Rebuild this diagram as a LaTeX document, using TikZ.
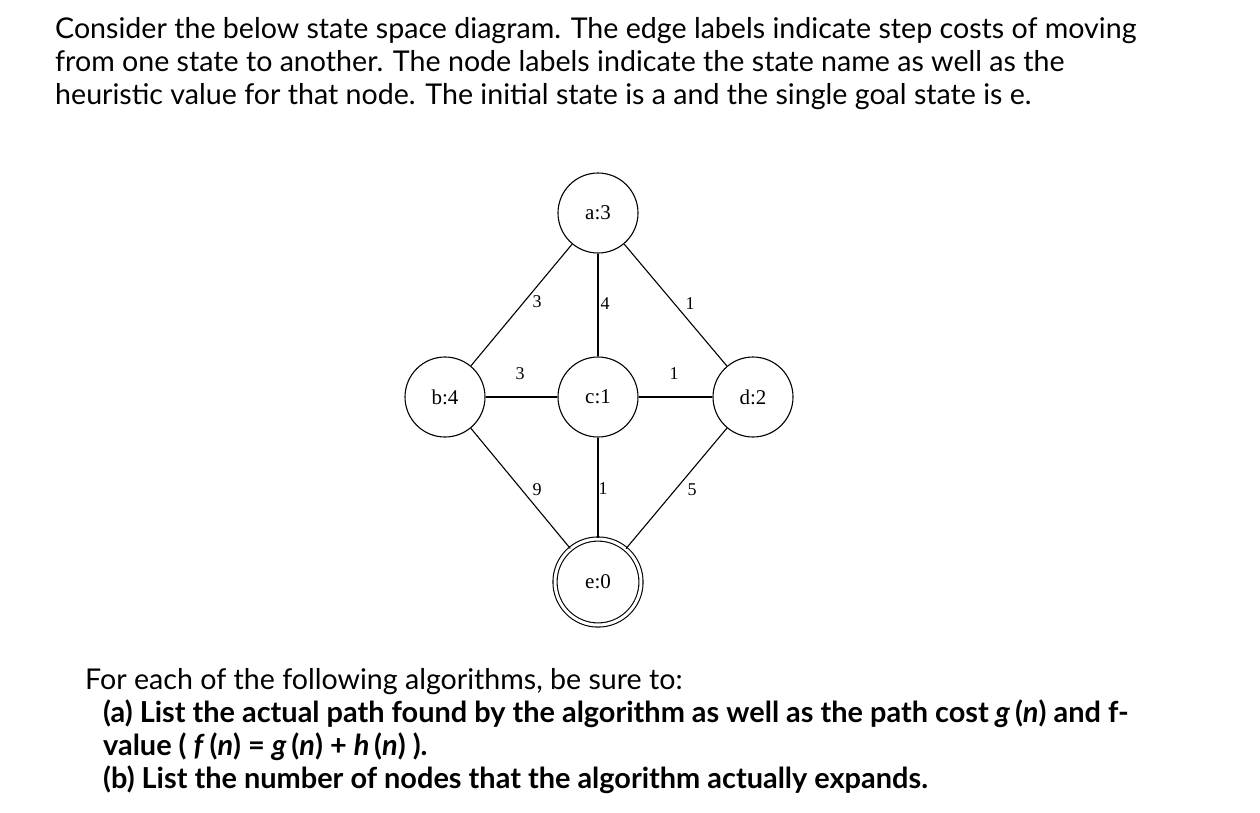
\documentclass[tikz,border=0pt]{standalone}
\usepackage{fontspec}
\setmainfont{Lato}
\newfontfamily\lib{Liberation Serif}
\begin{document}
\begin{tikzpicture}[x=1pt,y=-1pt,
  st/.style={circle,draw,line width=1.1pt,minimum size=80pt,inner sep=0pt,font=\lib\fontsize{21}{21}\selectfont},
  gst/.style={st,double,double distance=3pt,minimum size=86pt},
  el/.style={font=\lib\fontsize{18}{18}\selectfont,inner sep=0pt},
  tx/.style={anchor=base west,inner sep=0pt,font=\fontsize{28.6}{28.6}\selectfont},
  bx/.style={tx,font=\fontsize{28.9}{28.9}\selectfont\bfseries},
  ed/.style={line width=1.1pt}]
\useasboundingbox (0,0) rectangle (1260,812);
\node[tx] (t1) at (55,38) {Consider the below state space diagram. The edge labels indicate step costs of moving};
\node[tx] (t2) at (55,71) {from one state to another. The node labels indicate the state name as well as the};
\node[tx] (t3) at (55,104) {heuristic value for that node. The initial state is a and the single goal state is e.};
\node[st] (a) at (598,213) {a:3};
\node[st] (b) at (445,397) {b:4};
\node[st] (c) at (598,397) {c:1};
\node[st] (d) at (753,397) {d:2};
\node[gst] (e) at (598,582) {e:0};
\draw[ed] (a) -- (b); \draw[ed] (a) -- (c); \draw[ed] (a) -- (d);
\draw[ed] (b) -- (c); \draw[ed] (c) -- (d);
\draw[ed] (b) -- (e); \draw[ed] (c) -- (e); \draw[ed] (d) -- (e);
\node[el] (l1) at (537,302) {3};
\node[el] (l2) at (605,304) {4};
\node[el] (l3) at (690,304) {1};
\node[el] (l4) at (520,374) {3};
\node[el] (l5) at (674,374) {1};
\node[el] (l6) at (537,490) {9};
\node[el] (l7) at (603,489) {1};
\node[el] (l8) at (692,490) {5};
\node[tx] (t4) at (85,689) {For each of the following algorithms, be sure to:};
\node[bx] (t5) at (103,722) {(a) List the actual path found by the algorithm as well as the path cost \textit{g}\,(\textit{n}) and f-};
\node[bx] (t6) at (103,755) {value ( \textit{f}\,(\textit{n}) = \textit{g}\,(\textit{n}) + \textit{h}\,(\textit{n}) ).};
\node[bx] (t7) at (103,788) {(b) List the number of nodes that the algorithm actually expands.};
\end{tikzpicture}
\end{document}
